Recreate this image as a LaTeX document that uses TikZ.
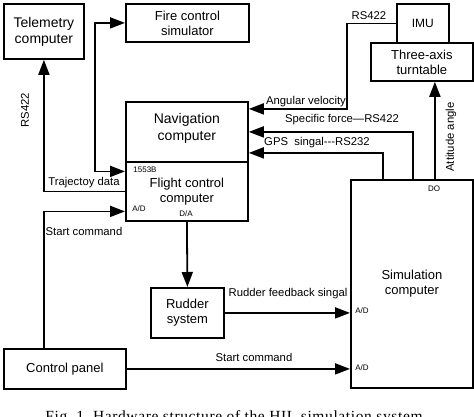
\documentclass[tikz,border=0pt]{standalone}
\usepackage{fontspec}
\setmainfont{Liberation Sans}
\newfontfamily\capfont[LetterSpace=4]{Liberation Serif}
\usetikzlibrary{arrows.meta,calc}
\begin{document}
\begin{tikzpicture}[x=1pt,y=-1pt,
  box/.style={draw,line width=1.8pt,anchor=north west,inner sep=0pt,align=center,font=\fontsize{13}{15}\selectfont},
  arr/.style={line width=1.8pt,-{Triangle[length=15pt,width=11pt]}},
  biarr/.style={line width=1.8pt,{Triangle[length=15pt,width=11pt]}-{Triangle[length=15pt,width=11pt]}},
  lbl/.style={inner sep=0pt,font=\fontsize{11.3}{13}\selectfont},
  port/.style={inner sep=0pt,font=\fontsize{8}{9}\selectfont}]
\useasboundingbox (0,0) rectangle (474,416);
\fill[white] (0,0) rectangle (474,416);
% boxes
\node[box,minimum width=80pt,minimum height=55pt,font=\fontsize{14}{16}\selectfont] (tele) at (3,3) {Telemetry\\computer};
\node[box,minimum width=123pt,minimum height=38pt] (fire) at (125,3) {Fire control\\simulator};
\node[box,minimum width=122pt,minimum height=60pt] (nav) at (125,101) {};
\node[inner sep=0pt,align=center,font=\fontsize{14}{17}\selectfont] (navtext) at ([yshift=4pt]nav.center) {Navigation\\computer};
\node[box,minimum width=122pt,minimum height=59pt] (fcc) at (125,161) {Flight control\\computer};
\node[box,minimum width=73pt,minimum height=50pt] (rudder) at (150,287) {Rudder\\system};
\node[box,minimum width=122pt,minimum height=40pt] (panel) at (3,348) {Control panel};
\node[box,minimum width=122pt,minimum height=208pt] (sim) at (350,179) {Simulation\\computer};
\node[box,minimum width=52pt,minimum height=39pt,font=\fontsize{12}{14}\selectfont] (imu) at (396,3) {IMU};
\node[box,minimum width=102pt,minimum height=38pt] (turn) at (370,42) {Three-axis\\turntable};
% port labels
\node[port] (p1553) at (145,170) {1553B};
\node[port] (pad1) at (139,209) {A/D};
\node[port] (pda) at (186,214) {D/A};
\node[port] (pdo) at (434,189) {DO};
\node[port] (pad2) at (362,311) {A/D};
\node[port] (pad3) at (362,368) {A/D};
% connectors
\draw[arr] (fcc.west) -| (tele.south);
\draw[biarr] (fire.west) -- ++(-30,0) |- ([yshift=20pt]fcc.west);
\draw[arr] ([xshift=-21pt]panel.north) |- ([yshift=-20pt]fcc.west);
\draw[arr] (fcc.south) -- (rudder.north);
\draw[arr] (rudder.east) -- (rudder.east -| sim.west);
\draw[arr] (panel.east) -- (panel.east -| sim.west);
\draw[arr] (imu.west) -- ++(-49,0) |- ([yshift=23pt]nav.east);
\draw[arr] ([xshift=1pt]sim.north) |- (nav.east);
\draw[arr] ([xshift=-29pt]sim.north) |- ([yshift=-21pt]nav.east);
\draw[arr] ([xshift=23pt]sim.north) -- ([xshift=23pt]sim.north |- turn.south);
% labels
\node[lbl,rotate=90] (lrs1) at (25,110) {RS422};
\node[lbl] (ltraj) at (84,183) {Trajectoy data};
\node[lbl] (lstart1) at (84,231) {Start command};
\node[lbl] (lstart2) at (254,357) {Start command};
\node[lbl] (lrud) at (288,294) {Rudder feedback singal};
\node[lbl] (lang) at (306,102) {Angular velocity};
\node[lbl] (lspec) at (342,120) {Specific force—RS422};
\node[lbl] (lgps) at (317,143) {GPS\ \ singal-{}-{}-RS232};
\node[lbl] (lrs2) at (369,16) {RS422};
\node[lbl,rotate=90] (latt) at (451,137) {Attitude angle};
% caption (cut off at the bottom edge, as in the reference)
\node[inner sep=0pt,anchor=base,font=\capfont\fontsize{15.5}{18}\selectfont] (cap) at (234,421) {Fig.~1\ \ Hardware structure of the HIL simulation system};
\end{tikzpicture}
\end{document}
